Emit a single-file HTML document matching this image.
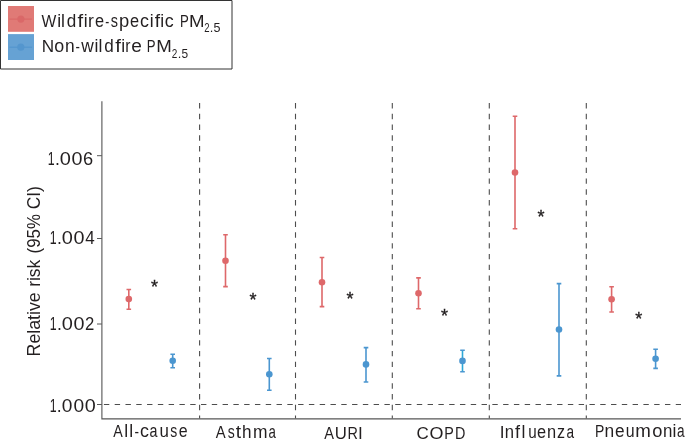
<!DOCTYPE html>
<html><head><meta charset="utf-8"><title>Relative risk chart</title>
<style>
html,body{margin:0;padding:0;background:#fff;width:685px;height:440px;overflow:hidden}
svg{display:block}
text{font-family:"Liberation Sans", Arial, sans-serif}
</style></head><body>
<svg width="685" height="440" viewBox="0 0 685 440">
<path d="M0.5,0.5H232V69H0.5Z" fill="none" stroke="#333" stroke-width="1"/>
<rect x="8" y="6" width="26" height="25.8" fill="rgb(224,122,118)"/>
<path d="M9.4,19.1H31.9" stroke="rgb(218,104,104)" stroke-width="1.2"/><circle cx="20.9" cy="19.1" r="3.6" fill="rgb(218,104,104)"/>
<rect x="8" y="34.1" width="26" height="25.9" fill="rgb(102,162,212)"/>
<path d="M9.4,47.2H32.1" stroke="rgb(84,150,206)" stroke-width="1.2"/><circle cx="20.8" cy="47.2" r="3.6" fill="rgb(84,150,206)"/>
<text y="27" font-size="16.6" fill="#231f20"><tspan x="41.39" textLength="14.82" lengthAdjust="spacingAndGlyphs">W</tspan><tspan x="57.21" font-size="17.6" textLength="3.91" lengthAdjust="spacingAndGlyphs">i</tspan><tspan x="61.03" font-size="17.6" textLength="3.91" lengthAdjust="spacingAndGlyphs">l</tspan><tspan x="66.77" font-size="17.6" textLength="9.52" lengthAdjust="spacingAndGlyphs">d</tspan><tspan x="77.45" font-size="17.6" textLength="5.66" lengthAdjust="spacingAndGlyphs">f</tspan><tspan x="83.76" font-size="17.6" textLength="3.91" lengthAdjust="spacingAndGlyphs">i</tspan><tspan x="88.12" font-size="17.6" textLength="5.86" lengthAdjust="spacingAndGlyphs">r</tspan><tspan x="94.89" font-size="17.6" textLength="9.11" lengthAdjust="spacingAndGlyphs">e</tspan><tspan x="105.27" textLength="4.00" lengthAdjust="spacingAndGlyphs">-</tspan><tspan x="110.82" font-size="17.6" textLength="7.21" lengthAdjust="spacingAndGlyphs">s</tspan><tspan x="119.06" font-size="17.6" textLength="10.24" lengthAdjust="spacingAndGlyphs">p</tspan><tspan x="129.89" font-size="17.6" textLength="9.11" lengthAdjust="spacingAndGlyphs">e</tspan><tspan x="140.03" font-size="17.6" textLength="8.95" lengthAdjust="spacingAndGlyphs">c</tspan><tspan x="149.76" font-size="17.6" textLength="3.91" lengthAdjust="spacingAndGlyphs">i</tspan><tspan x="154.76" font-size="17.6" textLength="5.35" lengthAdjust="spacingAndGlyphs">f</tspan><tspan x="160.36" font-size="17.6" textLength="3.91" lengthAdjust="spacingAndGlyphs">i</tspan><tspan x="164.83" font-size="17.6" textLength="8.95" lengthAdjust="spacingAndGlyphs">c</tspan><tspan> </tspan><tspan x="179.99" textLength="8.81" lengthAdjust="spacingAndGlyphs">P</tspan><tspan x="189.06" textLength="15.54" lengthAdjust="spacingAndGlyphs">M</tspan></text>
<text y="32" font-size="12.8" fill="#231f20"><tspan x="204.37" textLength="5.32" lengthAdjust="spacingAndGlyphs">2</tspan><tspan x="209.81" textLength="3.56" lengthAdjust="spacingAndGlyphs">.</tspan><tspan x="213.45" textLength="6.98" lengthAdjust="spacingAndGlyphs">5</tspan></text>
<text y="52" font-size="16.6" fill="#231f20"><tspan x="41.78" textLength="12.38" lengthAdjust="spacingAndGlyphs">N</tspan><tspan x="54.24" font-size="17.6" textLength="9.94" lengthAdjust="spacingAndGlyphs">o</tspan><tspan x="65.03" font-size="17.6" textLength="9.67" lengthAdjust="spacingAndGlyphs">n</tspan><tspan x="75.62" textLength="4.40" lengthAdjust="spacingAndGlyphs">-</tspan><tspan x="81.25" font-size="17.6" textLength="12.54" lengthAdjust="spacingAndGlyphs">w</tspan><tspan x="94.61" font-size="17.6" textLength="3.91" lengthAdjust="spacingAndGlyphs">i</tspan><tspan x="98.53" font-size="17.6" textLength="3.91" lengthAdjust="spacingAndGlyphs">l</tspan><tspan x="104.27" font-size="17.6" textLength="9.52" lengthAdjust="spacingAndGlyphs">d</tspan><tspan x="115.35" font-size="17.6" textLength="5.66" lengthAdjust="spacingAndGlyphs">f</tspan><tspan x="121.36" font-size="17.6" textLength="3.91" lengthAdjust="spacingAndGlyphs">i</tspan><tspan x="125.36" font-size="17.6" textLength="5.20" lengthAdjust="spacingAndGlyphs">r</tspan><tspan x="131.28" font-size="17.6" textLength="10.65" lengthAdjust="spacingAndGlyphs">e</tspan><tspan> </tspan><tspan x="146.79" textLength="8.81" lengthAdjust="spacingAndGlyphs">P</tspan><tspan x="156.16" textLength="15.54" lengthAdjust="spacingAndGlyphs">M</tspan></text>
<text y="58.1" font-size="12.8" fill="#231f20"><tspan x="171.75" textLength="5.56" lengthAdjust="spacingAndGlyphs">2</tspan><tspan x="177.66" textLength="3.56" lengthAdjust="spacingAndGlyphs">.</tspan><tspan x="181.47" textLength="6.63" lengthAdjust="spacingAndGlyphs">5</tspan></text>
<text transform="translate(40.00,356.42) rotate(-90)" x="0" y="0" font-size="17.5" textLength="64.18" lengthAdjust="spacingAndGlyphs" fill="#231f20">Relative</text>
<text transform="translate(40.00,286.82) rotate(-90)" x="0" y="0" font-size="17.5" textLength="27.11" lengthAdjust="spacingAndGlyphs" fill="#231f20">risk</text>
<text transform="translate(40.00,253.41) rotate(-90)" x="0" y="0" font-size="17.5" textLength="39.29" lengthAdjust="spacingAndGlyphs" fill="#231f20">(95%</text>
<text transform="translate(40.00,209.32) rotate(-90)" x="0" y="0" font-size="17.5" textLength="23.11" lengthAdjust="spacingAndGlyphs" fill="#231f20">CI)</text>
<text y="165" font-size="17.7" fill="#231f20"><tspan x="47.64" textLength="6.89" lengthAdjust="spacingAndGlyphs">1</tspan><tspan x="54.92" textLength="4.92" lengthAdjust="spacingAndGlyphs">.</tspan><tspan x="59.75" textLength="11.13" lengthAdjust="spacingAndGlyphs">0</tspan><tspan x="71.46" textLength="11.01" lengthAdjust="spacingAndGlyphs">0</tspan><tspan x="83.04" textLength="10.16" lengthAdjust="spacingAndGlyphs">6</tspan></text>
<text y="244.0" font-size="17.7" fill="#231f20"><tspan x="49.64" textLength="6.89" lengthAdjust="spacingAndGlyphs">1</tspan><tspan x="56.92" textLength="4.92" lengthAdjust="spacingAndGlyphs">.</tspan><tspan x="61.75" textLength="11.13" lengthAdjust="spacingAndGlyphs">0</tspan><tspan x="73.46" textLength="11.01" lengthAdjust="spacingAndGlyphs">0</tspan><tspan x="85.21" textLength="9.49" lengthAdjust="spacingAndGlyphs">4</tspan></text>
<text y="330" font-size="17.7" fill="#231f20"><tspan x="49.64" textLength="6.89" lengthAdjust="spacingAndGlyphs">1</tspan><tspan x="56.92" textLength="4.92" lengthAdjust="spacingAndGlyphs">.</tspan><tspan x="61.75" textLength="11.13" lengthAdjust="spacingAndGlyphs">0</tspan><tspan x="73.46" textLength="11.01" lengthAdjust="spacingAndGlyphs">0</tspan><tspan x="85.11" textLength="9.31" lengthAdjust="spacingAndGlyphs">2</tspan></text>
<text y="412" font-size="17.7" fill="#231f20"><tspan x="49.64" textLength="6.89" lengthAdjust="spacingAndGlyphs">1</tspan><tspan x="56.82" textLength="4.92" lengthAdjust="spacingAndGlyphs">.</tspan><tspan x="61.78" textLength="10.66" lengthAdjust="spacingAndGlyphs">0</tspan><tspan x="73.48" textLength="10.66" lengthAdjust="spacingAndGlyphs">0</tspan><tspan x="84.76" textLength="11.01" lengthAdjust="spacingAndGlyphs">0</tspan></text>
<path d="M97,155.7H101.9" stroke="#575757" stroke-width="1"/>
<path d="M97,238.5H101.9" stroke="#575757" stroke-width="1"/>
<path d="M97,324.0H101.9" stroke="#575757" stroke-width="1"/>
<path d="M97,404.5H101.9" stroke="#575757" stroke-width="1"/>
<path d="M199.6,103V418.5" stroke="#4d4d4d" stroke-width="1.1" stroke-dasharray="5.39 5.39"/>
<path d="M295.5,103V418.5" stroke="#4d4d4d" stroke-width="1.1" stroke-dasharray="5.39 5.39"/>
<path d="M392.3,103V418.5" stroke="#4d4d4d" stroke-width="1.1" stroke-dasharray="5.39 5.39"/>
<path d="M489.3,103V418.5" stroke="#4d4d4d" stroke-width="1.1" stroke-dasharray="5.39 5.39"/>
<path d="M586.3,103V418.5" stroke="#4d4d4d" stroke-width="1.1" stroke-dasharray="5.39 5.39"/>
<path d="M103.9,404.5H681" stroke="#4d4d4d" stroke-width="1.1" stroke-dasharray="5.395 5.395"/>
<path d="M101.9,101.2V418.9H681" stroke="#575757" stroke-width="1.12" fill="none"/>
<path d="M128.80,289.50V309.30M126.50,289.50H131.10M126.50,309.30H131.10" stroke="rgb(222,104,106)" stroke-width="1.6" fill="none"/><circle cx="128.80" cy="299.10" r="3.3" fill="rgb(222,104,106)"/>
<path d="M172.70,354.30V367.80M170.40,354.30H175.00M170.40,367.80H175.00" stroke="rgb(75,150,208)" stroke-width="1.6" fill="none"/><circle cx="172.70" cy="360.80" r="3.3" fill="rgb(75,150,208)"/>
<path d="M225.50,234.80V286.60M223.20,234.80H227.80M223.20,286.60H227.80" stroke="rgb(222,104,106)" stroke-width="1.6" fill="none"/><circle cx="225.50" cy="260.70" r="3.3" fill="rgb(222,104,106)"/>
<path d="M269.30,358.50V390.20M267.00,358.50H271.60M267.00,390.20H271.60" stroke="rgb(75,150,208)" stroke-width="1.6" fill="none"/><circle cx="269.30" cy="374.20" r="3.3" fill="rgb(75,150,208)"/>
<path d="M322.00,257.50V306.60M319.70,257.50H324.30M319.70,306.60H324.30" stroke="rgb(222,104,106)" stroke-width="1.6" fill="none"/><circle cx="322.00" cy="282.30" r="3.3" fill="rgb(222,104,106)"/>
<path d="M366.00,347.60V382.00M363.70,347.60H368.30M363.70,382.00H368.30" stroke="rgb(75,150,208)" stroke-width="1.6" fill="none"/><circle cx="366.00" cy="364.40" r="3.3" fill="rgb(75,150,208)"/>
<path d="M418.50,277.90V308.70M416.20,277.90H420.80M416.20,308.70H420.80" stroke="rgb(222,104,106)" stroke-width="1.6" fill="none"/><circle cx="418.50" cy="293.30" r="3.3" fill="rgb(222,104,106)"/>
<path d="M462.50,351.00V371.00" stroke="rgb(45,168,215)" stroke-width="1.6" fill="none"/><path d="M460.20,350.20H464.80M460.20,371.80H464.80" stroke="rgb(75,150,208)" stroke-width="1.6" fill="none"/><circle cx="462.50" cy="360.90" r="3.3" fill="rgb(75,150,208)"/>
<path d="M515.00,116.20V228.80M512.70,116.20H517.30M512.70,228.80H517.30" stroke="rgb(222,104,106)" stroke-width="1.6" fill="none"/><circle cx="515.00" cy="172.50" r="3.3" fill="rgb(222,104,106)"/>
<path d="M559.00,283.60V375.90M556.70,283.60H561.30M556.70,375.90H561.30" stroke="rgb(75,150,208)" stroke-width="1.6" fill="none"/><circle cx="559.00" cy="329.50" r="3.3" fill="rgb(75,150,208)"/>
<path d="M611.60,286.80V312.00M609.30,286.80H613.90M609.30,312.00H613.90" stroke="rgb(222,104,106)" stroke-width="1.6" fill="none"/><circle cx="611.60" cy="299.30" r="3.3" fill="rgb(222,104,106)"/>
<path d="M655.60,349.30V368.40M653.30,349.30H657.90M653.30,368.40H657.90" stroke="rgb(75,150,208)" stroke-width="1.6" fill="none"/><circle cx="655.60" cy="358.80" r="3.3" fill="rgb(75,150,208)"/>
<text x="151.09" y="293.00" font-size="18" fill="#231f20" stroke="#231f20" stroke-width="0.35">*</text>
<text x="249.49" y="306.00" font-size="18" fill="#231f20" stroke="#231f20" stroke-width="0.35">*</text>
<text x="346.59" y="305.00" font-size="18" fill="#231f20" stroke="#231f20" stroke-width="0.35">*</text>
<text x="441.09" y="322.00" font-size="18" fill="#231f20" stroke="#231f20" stroke-width="0.35">*</text>
<text x="537.49" y="223.00" font-size="18" fill="#231f20" stroke="#231f20" stroke-width="0.35">*</text>
<text x="635.29" y="325.00" font-size="18" fill="#231f20" stroke="#231f20" stroke-width="0.35">*</text>
<text y="437" font-size="17.2" fill="#231f20"><tspan x="113.25" textLength="9.50" lengthAdjust="spacingAndGlyphs">A</tspan><tspan x="124.13" font-size="17.6" textLength="3.91" lengthAdjust="spacingAndGlyphs">l</tspan><tspan x="129.13" font-size="17.6" textLength="3.91" lengthAdjust="spacingAndGlyphs">l</tspan><tspan x="134.61" textLength="4.53" lengthAdjust="spacingAndGlyphs">-</tspan><tspan x="140.03" font-size="17.6" textLength="8.95" lengthAdjust="spacingAndGlyphs">c</tspan><tspan x="149.53" font-size="17.6" textLength="7.97" lengthAdjust="spacingAndGlyphs">a</tspan><tspan x="159.47" font-size="17.6" textLength="9.40" lengthAdjust="spacingAndGlyphs">u</tspan><tspan x="170.13" font-size="17.6" textLength="6.98" lengthAdjust="spacingAndGlyphs">s</tspan><tspan x="178.71" font-size="17.6" textLength="8.88" lengthAdjust="spacingAndGlyphs">e</tspan></text>
<text y="438" font-size="17.2" fill="#231f20"><tspan x="215.85" textLength="9.90" lengthAdjust="spacingAndGlyphs">A</tspan><tspan x="227.83" font-size="17.6" textLength="6.98" lengthAdjust="spacingAndGlyphs">s</tspan><tspan x="235.77" font-size="17.6" textLength="5.34" lengthAdjust="spacingAndGlyphs">t</tspan><tspan x="241.95" font-size="17.6" textLength="9.54" lengthAdjust="spacingAndGlyphs">h</tspan><tspan x="252.93" font-size="17.6" textLength="14.52" lengthAdjust="spacingAndGlyphs">m</tspan><tspan x="268.62" font-size="17.6" textLength="7.38" lengthAdjust="spacingAndGlyphs">a</tspan></text>
<text y="439" font-size="17.2" fill="#231f20"><tspan x="324.15" textLength="9.70" lengthAdjust="spacingAndGlyphs">A</tspan><tspan x="334.81" textLength="12.12" lengthAdjust="spacingAndGlyphs">U</tspan><tspan x="347.60" textLength="10.40" lengthAdjust="spacingAndGlyphs">R</tspan><tspan x="357.89" textLength="4.78" lengthAdjust="spacingAndGlyphs">I</tspan></text>
<text y="439" font-size="17.2" fill="#231f20"><tspan x="416.60" textLength="12.27" lengthAdjust="spacingAndGlyphs">C</tspan><tspan x="429.45" textLength="13.96" lengthAdjust="spacingAndGlyphs">O</tspan><tspan x="444.30" textLength="9.56" lengthAdjust="spacingAndGlyphs">P</tspan><tspan x="455.00" textLength="10.40" lengthAdjust="spacingAndGlyphs">D</tspan></text>
<text y="438" font-size="17.2" fill="#231f20"><tspan x="499.69" textLength="4.78" lengthAdjust="spacingAndGlyphs">I</tspan><tspan x="504.78" font-size="17.6" textLength="9.27" lengthAdjust="spacingAndGlyphs">n</tspan><tspan x="515.07" font-size="17.6" textLength="5.04" lengthAdjust="spacingAndGlyphs">f</tspan><tspan x="521.53" font-size="17.6" textLength="3.91" lengthAdjust="spacingAndGlyphs">l</tspan><tspan x="528.18" font-size="17.6" textLength="8.48" lengthAdjust="spacingAndGlyphs">u</tspan><tspan x="536.89" font-size="17.6" textLength="9.11" lengthAdjust="spacingAndGlyphs">e</tspan><tspan x="546.90" font-size="17.6" textLength="9.14" lengthAdjust="spacingAndGlyphs">n</tspan><tspan x="557.01" font-size="17.6" textLength="8.05" lengthAdjust="spacingAndGlyphs">z</tspan><tspan x="566.50" font-size="17.6" textLength="7.59" lengthAdjust="spacingAndGlyphs">a</tspan></text>
<text y="437" font-size="17.2" fill="#231f20"><tspan x="595.03" textLength="9.31" lengthAdjust="spacingAndGlyphs">P</tspan><tspan x="604.43" font-size="17.6" textLength="9.67" lengthAdjust="spacingAndGlyphs">n</tspan><tspan x="615.06" font-size="17.6" textLength="9.59" lengthAdjust="spacingAndGlyphs">e</tspan><tspan x="625.83" font-size="17.6" textLength="8.87" lengthAdjust="spacingAndGlyphs">u</tspan><tspan x="635.24" font-size="17.6" textLength="15.59" lengthAdjust="spacingAndGlyphs">m</tspan><tspan x="652.22" font-size="17.6" textLength="10.18" lengthAdjust="spacingAndGlyphs">o</tspan><tspan x="662.97" font-size="17.6" textLength="9.40" lengthAdjust="spacingAndGlyphs">n</tspan><tspan x="672.46" font-size="17.6" textLength="3.91" lengthAdjust="spacingAndGlyphs">i</tspan><tspan x="677.00" font-size="17.6" textLength="7.59" lengthAdjust="spacingAndGlyphs">a</tspan></text>
</svg>
</body></html>
